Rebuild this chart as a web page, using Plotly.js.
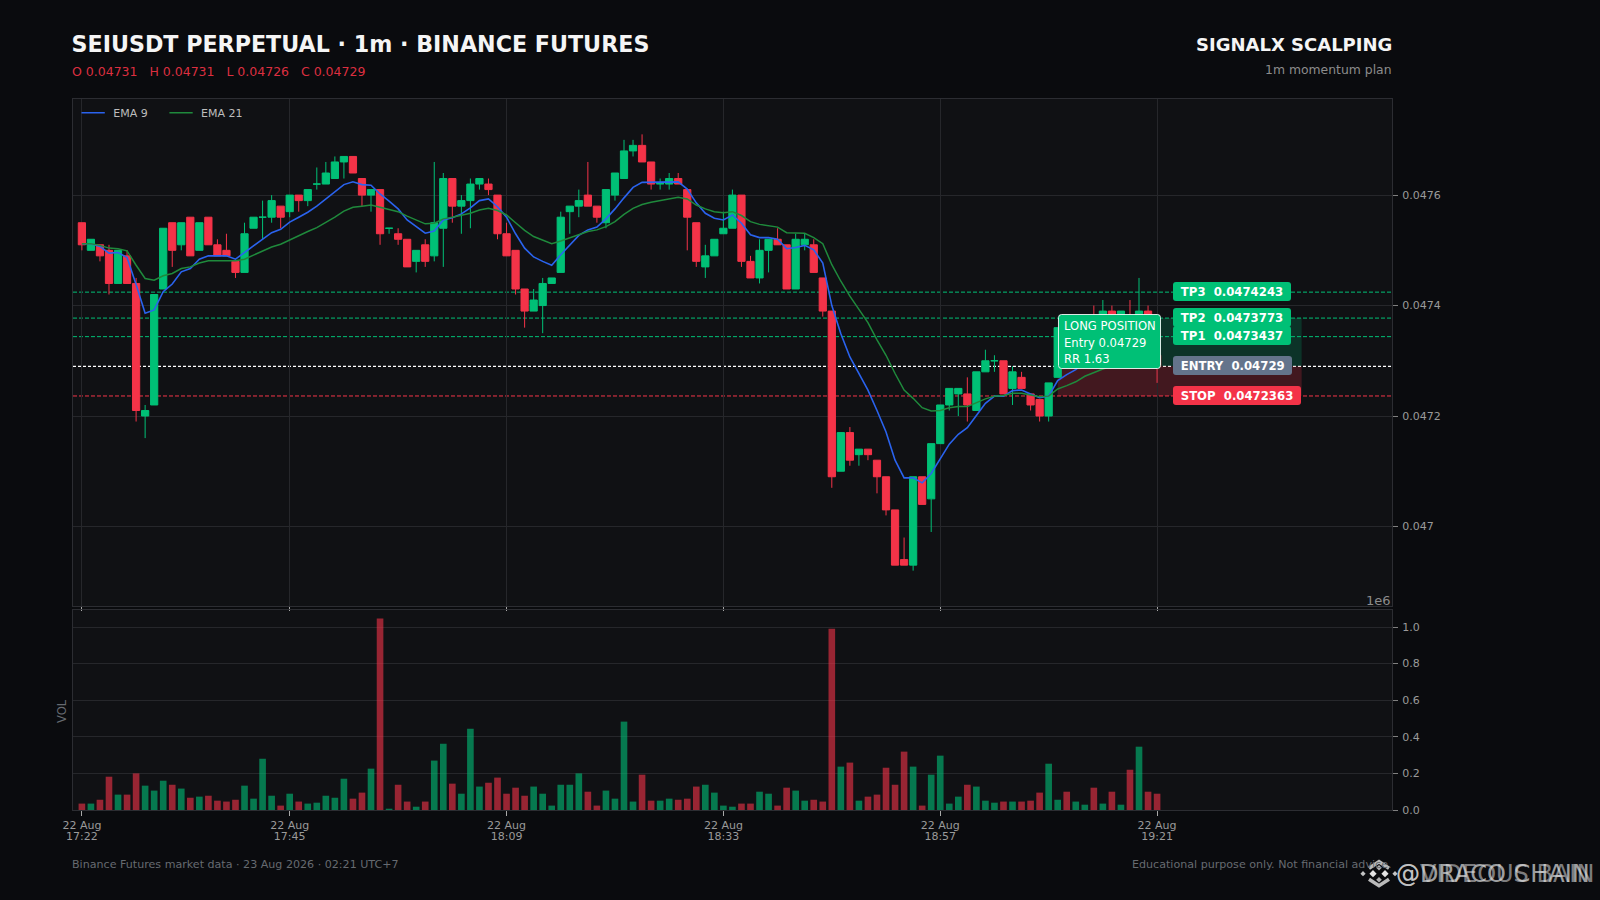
<!DOCTYPE html>
<html>
<head>
<meta charset="utf-8">
<script src="https://cdn.plot.ly/plotly-3.0.1.min.js"></script>
<style>html,body{margin:0;padding:0;background:#0a0b0e}#chart{width:1600px;height:900px}</style>
</head>
<body>
<div id="chart"></div>
<script>
// Prices are stored as offsets from PRICE_BASE in units of PRICE_UNIT
const PRICE_BASE = 0.047, PRICE_UNIT = 0.00001;
const DAY = '2026-08-22 ';
const minutes = ['17:22','17:23','17:24','17:25','17:26','17:27','17:28','17:29','17:30','17:31','17:32','17:33','17:34','17:35','17:36','17:37','17:38','17:39','17:40','17:41','17:42','17:43','17:44','17:45','17:46','17:47','17:48','17:49','17:50','17:51','17:52','17:53','17:54','17:55','17:56','17:57','17:58','17:59','18:00','18:01','18:02','18:03','18:04','18:05','18:06','18:07','18:08','18:09','18:10','18:11','18:12','18:13','18:14','18:15','18:16','18:17','18:18','18:19','18:20','18:21','18:22','18:23','18:24','18:25','18:26','18:27','18:28','18:29','18:30','18:31','18:32','18:33','18:34','18:35','18:36','18:37','18:38','18:39','18:40','18:41','18:42','18:43','18:44','18:45','18:46','18:47','18:48','18:49','18:50','18:51','18:52','18:53','18:54','18:55','18:56','18:57','18:58','18:59','19:00','19:01','19:02','19:03','19:04','19:05','19:06','19:07','19:08','19:09','19:10','19:11','19:12','19:13','19:14','19:15','19:16','19:17','19:18','19:19','19:20','19:21'];
const opens = [55,50,51,50,44,49,44,20,22,43,55,51,56,50,56,51,50,48,46,54,56,56,58,57,60,59,62,62,63,66,67,63,60,61,54,53,52,48,51,49,54,63,58,59,62,62,60,53,50,43,39,40,44,46,57,58,60,58,55,60,63,68,69,66,62,62,63,61,55,47,49,53,54,60,48,45,50,52,51,43,51,51,45,39,10,17,13,14,12,9,3,-6,-7,9,5,15,22,24,24,21,28,30,30,25,27,24,23,20,27,38,35,37,38,36,39,37,38,35,39,31];
const highs = [55,52,51,51,50,50,45,22,42,54,55,55,56,55,56,52,53,48,55,56,59,60,58,60,60,61,65,66,67,67,67,63,61,61,54,54,52,50,52,66,64,63,60,63,63,63,60,55,50,43,43,45,45,57,58,61,66,58,61,64,70,70,71,66,63,64,64,61,55,51,52,57,61,60,49,52,52,54,51,53,53,52,45,39,17,18,14,14,12,9,3,-2,9,9,15,22,25,25,27,28,32,31,30,29,28,24,23,26,36,38,37,38,40,41,40,39,41,45,40,31];
const lows = [50,50,48,42,44,44,19,16,22,43,47,50,49,50,51,49,49,45,46,54,52,55,54,56,57,58,61,62,63,63,64,58,57,51,53,51,47,46,47,48,47,55,53,54,61,60,52,49,42,36,39,35,44,46,53,56,58,55,54,59,63,67,66,61,61,61,62,50,47,45,49,53,54,47,45,44,46,51,43,43,50,46,38,7,10,11,11,12,6,2,-7,-7,-8,4,-1,15,21,20,19,21,28,28,24,22,25,21,19,19,27,35,35,37,36,36,37,37,35,35,31,26];
const closes = [51,52,49,44,50,44,21,21,42,54,50,55,49,55,51,49,49,46,53,56,56,59,56,60,59,61,62,64,66,67,64,60,61,53,54,52,47,50,48,55,63,58,59,62,63,61,53,49,43,39,41,44,45,56,58,59,58,56,61,64,68,69,66,62,62.1,63,62,56,48,49,52,54,60,48,45,50,52,51,43,52,52,46,39,9,17,12,14,13,9,3,-7,-7,9,4,15,22,25,25,22,28,30,30,24,28,25,22,20,26,36,35,37,38,36,39,37,39,35,39,31,29];
const ema9 = [51.2,51.2,50.7,49.5,49.6,48.7,43.8,38.6,39.2,42.5,43.9,46.1,46.7,48.4,49,49,49,48.4,49.6,50.8,51.9,53.2,53.8,55.1,56,56.9,58,59.3,60.6,61.9,62.4,61.9,61.8,60.2,58.9,57.5,55.5,54.3,53.1,53.5,55.5,55.9,56.6,57.7,59,59.3,57.9,56,53,50.4,48.8,48,47.3,49.2,51,52.7,53.7,54.2,55.7,57.5,59.5,61.4,62.3,62.3,62.3,62.4,62.4,61.1,58.6,56.7,55.8,55.5,56.4,54.9,52.8,52.3,52.3,52,50.3,50.5,50.9,50.1,47.7,40,34.9,30.7,27.7,24.7,21,17.1,12,8.8,8.8,7.9,9.6,12.3,14.9,16.7,17.9,20.1,22.3,23.6,23.6,24.6,24.7,24,23.3,23.6,26.4,27.5,28.4,29.8,30.8,31.8,32.8,33.5,34,35,35.2,34.5];
const ema21 = [51.2,51.2,50.9,50.4,50.3,49.9,47.3,44.9,44.6,45.4,45.8,46.7,47,47.7,48.1,48.1,48.2,48.1,48.4,49.1,49.8,50.6,51.1,51.9,52.6,53.4,54.1,55,56,57.1,57.8,58,58.2,57.8,57.4,57,56.2,55.5,54.8,54.9,55.7,56,56.3,56.7,57.3,57.6,57.2,56.4,55,53.6,52.5,51.8,51.2,51.7,52.3,52.9,53.4,53.7,54.3,55.2,56.5,57.6,58.3,58.7,59,59.4,59.6,59.3,58.2,57.5,57,56.8,57,56.3,55.2,54.7,54.4,54.2,53.2,53.1,53.1,52.3,51.2,47.4,44.4,41.7,39.3,36.9,33.8,31,27.7,24.7,23.2,21.5,20.9,21,21.5,21.7,21.7,22.4,23.1,23.6,23.7,24.1,24.1,23.8,23.5,23.6,24.9,25.5,26.2,27.2,27.9,28.5,29,29.5,30,30.5,30.6,30.5];
// Volume in units of 1e6
const volume = [.035,.035,.056,.182,.084,.084,.2,.133,.106,.16,.138,.117,.067,.073,.078,.051,.046,.056,.133,.062,.28,.078,.024,.089,.046,.035,.04,.078,.067,.171,.062,.095,.226,1.046,.007,.138,.046,.018,.046,.27,.362,.144,.089,.444,.128,.149,.177,.089,.122,.078,.128,.089,.024,.138,.138,.2,.1,.024,.106,.062,.483,.046,.193,.051,.051,.062,.056,.062,.128,.138,.095,.024,.018,.035,.035,.1,.089,.024,.122,.106,.051,.056,.046,.991,.237,.259,.051,.073,.084,.231,.138,.319,.237,.024,.193,.297,.035,.073,.138,.128,.051,.04,.046,.046,.046,.051,.095,.253,.056,.1,.046,.029,.122,.035,.1,.029,.22,.346,.1,.089];
const priceTicks = [0.047,0.0472,0.0474,0.0476];
const priceTickText = ['0.047','0.0472','0.0474','0.0476'];
const volumeTicks = [0,0.2,0.4,0.6,0.8,1];
const volumeTickText = ['0.0','0.2','0.4','0.6','0.8','1.0'];
const timeTicks = ['17:22','17:45','18:09','18:33','18:57','19:21'];
const timeTickText = timeTicks.map(t => '22 Aug<br>' + t);
const levelNames = ['TP3','TP2','TP1','ENTRY','STOP'];
const levelValues = [0.0474243,0.0473773,0.0473437,0.04729,0.0472363];
const levelLabels = ['0.0474243','0.0473773','0.0473437','0.04729','0.0472363'];

const GREEN = '#00c076', RED = '#f43348', PAPER = '#0a0b0e', PLOT = '#101114', GRID = '#26272b', BORDER = '#2c2d32';
const FONT = '"DejaVu Sans", sans-serif';
const L = 72.5, R = 1392, T = 99.3, B = 810.3;
const px = x => (x - L) / (R - L), py = y => (B - y) / (B - T);
const price = a => a.map(v => PRICE_BASE + v * PRICE_UNIT);
const times = minutes.map(m => DAY + m);
const upMove = closes.map((c, i) => c >= opens[i]);

const traces = [
  {type:'candlestick', x:times, open:price(opens), high:price(highs), low:price(lows), close:price(closes),
   xaxis:'x', yaxis:'y', showlegend:false, whiskerwidth:0, hoverinfo:'skip',
   increasing:{line:{color:GREEN,width:1},fillcolor:GREEN}, decreasing:{line:{color:RED,width:1},fillcolor:RED}},
  {type:'scatter', mode:'lines', x:times, y:price(ema9), name:'EMA 9', xaxis:'x', yaxis:'y', line:{color:'#2a63ee',width:1.6}, hoverinfo:'skip'},
  {type:'scatter', mode:'lines', x:times, y:price(ema21), name:'EMA 21', xaxis:'x', yaxis:'y', line:{color:'#1f8a3c',width:1.5}, hoverinfo:'skip'},
  {type:'bar', x:times, y:volume, xaxis:'x2', yaxis:'y2', showlegend:false, width:44000, hoverinfo:'skip',
   marker:{color:upMove.map(u => u ? 'rgba(0,192,118,0.6)' : 'rgba(244,51,72,0.6)'), line:{width:0}}}
];

const lineStyle = {TP3:[GREEN,1,'4px,2px'],TP2:[GREEN,1,'4px,2px'],TP1:[GREEN,1,'4px,2px'],ENTRY:['#ffffff',1.2,'3px,2px'],STOP:[RED,1,'4px,2px']};
const shapes = [
  {type:'rect',layer:'below',xref:'x',yref:'y',x0:DAY+'19:10',x1:DAY+'19:37',y0:levelValues[3],y1:levelValues[1],fillcolor:'rgba(0,192,118,0.2)',line:{width:0}},
  {type:'rect',layer:'below',xref:'x',yref:'y',x0:DAY+'19:10',x1:DAY+'19:37',y0:levelValues[4],y1:levelValues[3],fillcolor:'rgba(244,51,72,0.22)',line:{width:0}}
];
levelNames.forEach((n,i) => shapes.push({type:'line',layer:'below',xref:'paper',yref:'y',x0:0,x1:1,y0:levelValues[i],y1:levelValues[i],
  line:{color:lineStyle[n][0],width:lineStyle[n][1],dash:lineStyle[n][2]}}));

// watermark logo
const logoCx = 1379, logoCy = 874;
[[-16,0,2.6,.85],[16,0,2.6,.85],[-6,0,3.6,1],[6,0,3.6,1],[0,-6,2.8,.75],[0,6,2.8,.75]].forEach(d => {
  const cx = logoCx + d[0], cy = logoCy + d[1], r = d[2];
  shapes.push({type:'path',xref:'paper',yref:'paper',
    path:`M${px(cx-r)},${py(cy)}L${px(cx)},${py(cy-r)}L${px(cx+r)},${py(cy)}L${px(cx)},${py(cy+r)}Z`,
    fillcolor:`rgba(228,228,228,${d[3]})`,line:{width:0}});
});
[-1,1].forEach(s => {
  shapes.push({type:'path',xref:'paper',yref:'paper',
    path:`M${px(logoCx-10)},${py(logoCy+s*5.5)}L${px(logoCx)},${py(logoCy+s*12)}L${px(logoCx+10)},${py(logoCy+s*5.5)}`,
    fillcolor:'rgba(0,0,0,0)',line:{color:'rgba(205,205,205,0.9)',width:3.6}});
});

const labelColors = {TP3:GREEN,TP2:GREEN,TP1:GREEN,ENTRY:'#64748b',STOP:RED};
const labelWidths = {TP3:112,TP2:112,TP1:112,ENTRY:113.4,STOP:122};
const labelX = DAY + '19:22:47';
const text = (t,x,y,anchor,size,color,extra) => Object.assign({xref:'paper',yref:'paper',x:px(x+(anchor==='left'?-3:anchor==='right'?2:0)),y:py(y),xanchor:anchor,yanchor:'middle',showarrow:false,text:t,font:{family:FONT,size:size,color:color}},extra||{});
const annotations = [
  text('<b>SIGNALX SCALPING</b>',1392,44.5,'right',18,'#f5f5f5'),
  text('1m momentum plan',1392,70,'right',12.4,'#8c8c8c'),
  text('O 0.04731\u00a0\u00a0\u00a0H 0.04731\u00a0\u00a0\u00a0L 0.04726\u00a0\u00a0\u00a0C 0.04729',72.3,71.7,'left',12.5,'#dc2f40'),
  text('1e6',1391,601,'right',13,'#8c8c8c'),
  text('Binance Futures market data · 23 Aug 2026 · 02:21 UTC+7',72.5,864.3,'left',11.1,'#666a70'),
  text('Educational purpose only. Not financial advice.',1392,864.3,'right',11.1,'#666a70'),
  text('@DRACO CHAIN',1397,874.5,'left',24,'rgba(225,225,225,0.7)'),
  text('@VIDEOUS BAIN',1397,874.5,'left',24,'rgba(225,225,225,0.55)')
];
levelNames.forEach((n,i) => {
  annotations.push({xref:'x',yref:'y',x:labelX,y:levelValues[i],xanchor:'left',yanchor:'middle',yshift:0.8,showarrow:false,
    text:'<b>'+n+'\u00a0\u00a0'+levelLabels[i]+'</b>',font:{family:FONT,size:11.7,color:'#ffffff'},
    bgcolor:labelColors[n],borderpad:3,borderwidth:0,align:'center',width:labelWidths[n],height:13.3});
});
annotations.push({xref:'x',yref:'y',x:DAY+'19:10:05',y:0.047335,xanchor:'left',yanchor:'middle',showarrow:false,
  text:'LONG POSITION<br>Entry 0.04729<br>RR 1.63',align:'left',font:{family:FONT,size:11.6,color:'#ffffff'},
  bgcolor:GREEN,bordercolor:'rgba(255,255,255,0.85)',borderwidth:1,borderpad:3,width:94.5,height:46.7});

const layout = {
  width:1600, height:900, autosize:false, paper_bgcolor:PAPER, plot_bgcolor:PLOT,
  margin:{l:L,r:1600-R,t:T,b:900-B,pad:0},
  font:{family:FONT,color:'#9a9a9a',size:11},
  title:{text:'<b>SEIUSDT PERPETUAL · 1m · BINANCE FUTURES</b>',xref:'container',x:71.5/1600,xanchor:'left',yref:'container',y:1-44.5/900,yanchor:'middle',pad:{l:0,r:0,t:0,b:0},font:{family:FONT,size:22.2,color:'#f5f5f5'}},
  boxgap:0.2, boxgroupgap:0, barmode:'overlay', showlegend:true, hovermode:false, dragmode:false,
  legend:{orientation:'h',x:px(76),y:py(98.5),xanchor:'left',yanchor:'top',bgcolor:'rgba(0,0,0,0)',font:{family:FONT,size:11,color:'#bdbdbd'},itemwidth:30,traceorder:'normal',itemclick:false,itemdoubleclick:false},
  xaxis:{domain:[0,1],anchor:'y',type:'date',range:[DAY+'17:21:01',DAY+'19:47:00'],tickmode:'array',tickvals:timeTicks.map(t=>DAY+t),ticktext:timeTickText,showticklabels:false,
    showgrid:true,gridcolor:GRID,gridwidth:1,zeroline:false,showline:true,linecolor:BORDER,linewidth:1,mirror:true,ticks:'outside',ticklen:4,tickcolor:'#a8a8a8',tickwidth:1,rangeslider:{visible:false}},
  xaxis2:{domain:[0,1],anchor:'y2',type:'date',matches:'x',tickmode:'array',tickvals:timeTicks.map(t=>DAY+t),ticktext:timeTickText,tickfont:{family:FONT,size:11,color:'#9a9a9a'},
    showgrid:false,zeroline:false,showline:true,linecolor:BORDER,linewidth:1,mirror:true,ticks:'outside',ticklen:5,tickcolor:'#a8a8a8',tickwidth:1,tickangle:0},
  yaxis:{domain:[py(606.3),1],anchor:'x',side:'right',range:[0.046856,0.047774],tickmode:'array',tickvals:priceTicks,ticktext:priceTickText,tickfont:{family:FONT,size:11,color:'#9a9a9a'},ticklabelstandoff:2,
    showgrid:true,gridcolor:GRID,gridwidth:1,zeroline:false,showline:true,linecolor:BORDER,linewidth:1,mirror:true,ticks:'outside',ticklen:5,tickcolor:'#808080',tickwidth:1},
  yaxis2:{domain:[0,py(610.3)],anchor:'x2',side:'right',range:[0,1.093],tickmode:'array',tickvals:volumeTicks,ticktext:volumeTickText,tickfont:{family:FONT,size:11,color:'#9a9a9a'},ticklabelstandoff:2,
    showgrid:true,gridcolor:GRID,gridwidth:1,zeroline:false,showline:true,linecolor:BORDER,linewidth:1,mirror:true,ticks:'outside',ticklen:5,tickcolor:'#808080',tickwidth:1},
  shapes:shapes, annotations:annotations.concat([text('VOL',60.7,711,'center',11.5,'#666a70',{textangle:-90})])
};
const spaceLines = (sel, em, dx) => document.querySelectorAll(sel).forEach(txt => {
  const lines = txt.querySelectorAll('tspan.line');
  lines.forEach((t,i) => { t.setAttribute('dy',(i*em)+'em'); if (dx && lines.length > 1) t.setAttribute('dx',dx); });
});
Plotly.newPlot('chart',traces,layout,{staticPlot:true,displayModeBar:false}).then(() => {
  document.querySelectorAll('.annotation rect.bg').forEach(r => { r.setAttribute('rx',3); r.setAttribute('ry',3); });
  // tighter line spacing on time labels
  spaceLines('.x2tick text', 1.02);
  // tooltip lines: wider line spacing, small inset
  spaceLines('.annotation-text', 1.41, 2);
  // legend key proportions
  document.querySelectorAll('.legend .traces').forEach((g,i) => {
    const m = /translate\(([^,]+),\s*([^)]+)\)/.exec(g.getAttribute('transform'));
    if (i === 1 && m) g.setAttribute('transform',`translate(${87.9},${m[2]})`);
    else if (m) g.setAttribute('transform',`translate(0,${m[2]})`);
    g.querySelectorAll('.legendlines path').forEach(p => p.setAttribute('d','M5,0h23.3'));
    const tx = g.querySelector('text.legendtext');
    if (tx) tx.setAttribute('x', 36.7);
  });
});
</script>
</body>
</html>
